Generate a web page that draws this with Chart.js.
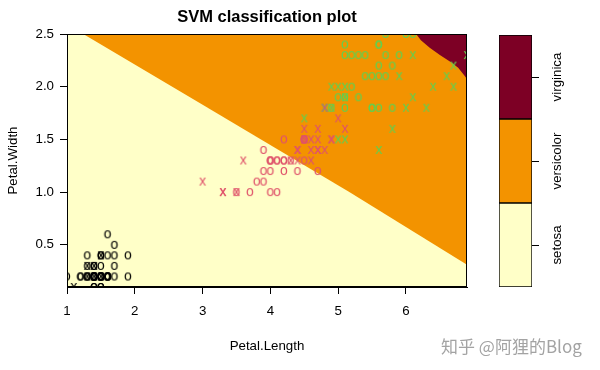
<!DOCTYPE html>
<html>
<head>
<meta charset="utf-8">
<script src="https://cdn.jsdelivr.net/npm/chart.js@4.4.0/dist/chart.umd.min.js"></script>
<style>
  body { margin: 0; background: #fff; }
  #wrap { position: relative; width: 600px; height: 370px; }
  canvas { position: absolute; left: 0; top: 0; }
  #mark { position: absolute; left: 441px; top: 335px; font-size: 17px; line-height: 22px;
          font-family: "Noto Sans CJK SC", sans-serif; color: #a3a3a3; white-space: nowrap; }
</style>
</head>
<body>
<div id="wrap">
  <canvas id="plot" width="600" height="370"></canvas>
  <canvas id="key" width="600" height="370"></canvas>
  <div id="mark">知乎 @阿狸的Blog</div>
</div>
<script>
// iris petal measurements, rows 1-50 / 51-100 / 101-150
const setosaLength = [1.4,1.4,1.3,1.5,1.4,1.7,1.4,1.5,1.4,1.5,1.5,1.6,1.4,1.1,1.2,1.5,1.3,1.4,1.7,1.5,1.7,1.5,1.0,1.7,1.9,1.6,1.6,1.5,1.4,1.6,1.6,1.5,1.5,1.4,1.5,1.2,1.3,1.4,1.3,1.5,1.3,1.3,1.3,1.6,1.9,1.4,1.6,1.4,1.5,1.4];
const setosaWidth = [0.2,0.2,0.2,0.2,0.2,0.4,0.3,0.2,0.2,0.1,0.2,0.2,0.1,0.1,0.2,0.4,0.4,0.3,0.3,0.3,0.2,0.4,0.2,0.5,0.2,0.2,0.4,0.2,0.2,0.2,0.2,0.4,0.1,0.2,0.2,0.2,0.2,0.1,0.2,0.2,0.3,0.3,0.2,0.6,0.4,0.3,0.2,0.2,0.2,0.2];
const versicolorLength = [4.7,4.5,4.9,4.0,4.6,4.5,4.7,3.3,4.6,3.9,3.5,4.2,4.0,4.7,3.6,4.4,4.5,4.1,4.5,3.9,4.8,4.0,4.9,4.7,4.3,4.4,4.8,5.0,4.5,3.5,3.8,3.7,3.9,5.1,4.5,4.5,4.7,4.4,4.1,4.0,4.4,4.6,4.0,3.3,4.2,4.2,4.2,4.3,3.0,4.1];
const versicolorWidth = [1.4,1.5,1.5,1.3,1.5,1.3,1.6,1.0,1.3,1.4,1.0,1.5,1.0,1.4,1.3,1.4,1.5,1.0,1.5,1.1,1.8,1.3,1.5,1.2,1.3,1.4,1.4,1.7,1.5,1.0,1.1,1.0,1.2,1.6,1.5,1.6,1.5,1.3,1.3,1.3,1.2,1.4,1.2,1.0,1.3,1.2,1.3,1.3,1.1,1.3];
const virginicaLength = [6.0,5.1,5.9,5.6,5.8,6.6,4.5,6.3,5.8,6.1,5.1,5.3,5.5,5.0,5.1,5.3,5.5,6.7,6.9,5.0,5.7,4.9,6.7,4.9,5.7,6.0,4.8,4.9,5.6,5.8,6.1,6.4,5.6,5.1,5.6,6.1,5.6,5.5,4.8,5.4,5.6,5.1,5.1,5.9,5.7,5.2,5.0,5.2,5.4,5.1];
const virginicaWidth = [2.5,1.9,2.1,1.8,2.2,2.1,1.7,1.8,1.8,2.5,2.0,1.9,2.1,2.0,2.4,2.3,1.8,2.2,2.3,1.5,2.3,2.0,2.0,1.8,2.1,1.8,1.8,1.8,2.1,1.6,1.9,2.0,2.2,1.5,1.4,2.3,2.4,1.8,1.8,2.1,2.4,2.3,1.9,2.3,2.5,2.3,1.9,2.0,2.3,1.8];

// support vectors (row numbers), drawn as "x"
const setosaSV = [2,3,4,7,14,16,42];
const versicolorSV = [51,53,55,57,58,59,61,64,65,66,67,71,73,76,77,78,84,86,87,88,92,94,98,99];
const virginicaSV = [102,103,106,107,108,111,114,118,119,120,122,123,124,126,127,130,131,132,134,135,136,139];

// decision boundaries
const setosaEdgeX = [1.0, 1.24, 2.92, 5.17, 6.9];
const setosaEdgeY = [2.5, 2.5, 1.86, 1.0, 0.31];
const virginicaEdgeX = [6.15, 6.22, 6.35, 6.5, 6.67, 6.77, 6.87, 6.9];
const virginicaEdgeY = [2.5, 2.44, 2.37, 2.3, 2.23, 2.18, 2.1, 2.07];

const classNames = ['setosa', 'versicolor', 'virginica'];
const xTicks = [1, 2, 3, 4, 5, 6];
const yTicks = [0.5, 1.0, 1.5, 2.0, 2.5];

const regionColors = ['#FFFFC8', '#F39300', '#7D0025'];
const symbolColors = ['#000000', '#DF536B', '#61D04F'];
const FONT = '"Liberation Sans", Arial, sans-serif';

Chart.defaults.font.family = FONT;
Chart.defaults.color = '#000';

// R style "o" / "x" plotting characters
function glyph(ch, color) {
    const c = document.createElement('canvas');
    c.width = 14; c.height = 14;
    const g = c.getContext('2d');
    g.fillStyle = color;
    g.font = '14px ' + FONT;
    g.textAlign = 'center';
    g.textBaseline = 'alphabetic';
    g.fillText(ch, 7, 10.6);
    return c;
}

function pts(xs, ys) {
    return xs.map((x, i) => ({ x: x, y: ys[i] }));
}

function pointSets(lengths, widths, svRows, firstRow, color) {
    const o = [], x = [];
    lengths.forEach((len, i) => {
        const p = { x: len, y: widths[i] };
        if (svRows.includes(firstRow + i)) x.push(p); else o.push(p);
    });
    const base = { type: 'scatter', pointRadius: 4, clip: 0, order: 0 };
    return [
        { ...base, data: o, pointStyle: glyph('o', color) },
        { ...base, data: x, pointStyle: glyph('x', color) }
    ];
}

const noLine = 'rgba(0,0,0,0)';
const datasets = [
    { type: 'line', data: pts([1, 6.9], [2.5, 2.5]), fill: 'start', backgroundColor: regionColors[1],
      borderColor: noLine, pointRadius: 0, order: 3 },
    { type: 'line', data: pts(setosaEdgeX, setosaEdgeY), fill: 'start', backgroundColor: regionColors[0],
      borderColor: noLine, pointRadius: 0, order: 2 },
    { type: 'line', data: pts(virginicaEdgeX, virginicaEdgeY), fill: 'end', backgroundColor: regionColors[2],
      borderColor: noLine, pointRadius: 0, order: 2 },
    ...pointSets(setosaLength, setosaWidth, setosaSV, 1, symbolColors[0]),
    ...pointSets(versicolorLength, versicolorWidth, versicolorSV, 51, symbolColors[1]),
    ...pointSets(virginicaLength, virginicaWidth, virginicaSV, 101, symbolColors[2])
];

// box round the plot region
const plotBox = {
    id: 'plotBox',
    afterDatasetsDraw(chart) {
        const { ctx, chartArea: a } = chart;
        ctx.save();
        ctx.strokeStyle = '#000';
        ctx.lineWidth = 1;
        ctx.strokeRect(Math.round(a.left) + 0.5, Math.round(a.top) + 0.5,
            Math.round(a.right - a.left) - 1, Math.round(a.bottom - a.top) - 1);
        ctx.restore();
    }
};

const tickFont = { size: 13.3 };

new Chart(document.getElementById('plot'), {
    type: 'scatter',
    data: { datasets: datasets },
    options: {
        responsive: false,
        animation: false,
        events: [],
        layout: { padding: { left: 0, right: 133, top: 0, bottom: 0 } },
        plugins: {
            legend: { display: false },
            tooltip: { enabled: false },
            title: {
                display: true, text: 'SVM classification plot', fullSize: false, color: '#000',
                font: { size: 16.5, weight: 'bold' }, padding: { top: 8, bottom: 6.2 }
            }
        },
        scales: {
            x: {
                type: 'linear', min: 1, max: 6.9,
                afterBuildTicks: s => { s.ticks = xTicks.map(v => ({ value: v })); },
                afterFit: s => { s.height = 83; },
                grid: { drawOnChartArea: false, tickLength: 7, color: '#000' },
                border: { display: true, color: '#000' },
                ticks: { font: tickFont, padding: 9, maxRotation: 0, callback: v => String(v) },
                title: { display: true, text: 'Petal.Length', font: tickFont, padding: { top: 0, bottom: 16 } }
            },
            y: {
                type: 'linear', min: 0.1, max: 2.5,
                afterBuildTicks: s => { s.ticks = yTicks.map(v => ({ value: v })); },
                afterFit: s => { s.width = 67; },
                grid: { drawOnChartArea: false, tickLength: 7, color: '#000' },
                border: { display: true, color: '#000' },
                ticks: { font: tickFont, padding: 6, callback: v => v.toFixed(1) },
                title: { display: true, text: 'Petal.Width', font: tickFont, padding: { top: 5, bottom: 0 } }
            }
        }
    },
    plugins: [plotBox]
});

// colour key
new Chart(document.getElementById('key'), {
    type: 'bar',
    data: {
        labels: [''],
        datasets: classNames.map((name, i) => ({
            label: name, data: [1], backgroundColor: regionColors[i],
            borderColor: '#000', borderWidth: 1, borderSkipped: false,
            barPercentage: 1, categoryPercentage: 1
        }))
    },
    options: {
        responsive: false,
        animation: false,
        events: [],
        layout: { padding: { left: 499, top: 35, bottom: 83, right: 0 } },
        plugins: { legend: { display: false }, tooltip: { enabled: false } },
        scales: {
            x: { display: false, stacked: true },
            y: {
                stacked: true, position: 'right', min: 0, max: 3,
                afterBuildTicks: s => { s.ticks = [0.5, 1.5, 2.5].map(v => ({ value: v })); },
                afterFit: s => { s.width = 68; },
                grid: { drawOnChartArea: false, tickLength: 7, color: '#000' },
                border: { display: false },
                ticks: {
                    font: tickFont, minRotation: 90, maxRotation: 90, crossAlign: 'center', padding: -10,
                    callback: v => classNames[Math.floor(v)]
                }
            }
        }
    }
});
</script>
</body>
</html>
